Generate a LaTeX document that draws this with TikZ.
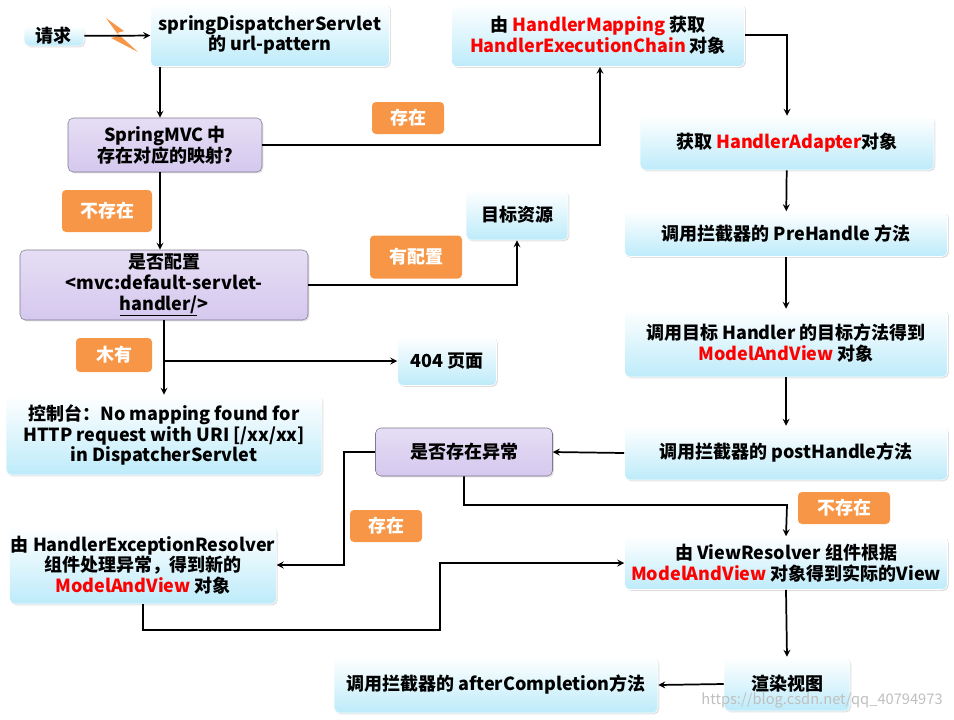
\documentclass[tikz,border=0pt]{standalone}
\usepackage{fontspec}
\setmainfont{Noto Sans CJK SC}
\usetikzlibrary{shadows}
\definecolor{bluebox}{HTML}{BDEBFA}
\definecolor{purbox}{HTML}{D5C8EE}
\definecolor{orbox}{HTML}{F79646}
\definecolor{rd}{HTML}{FF0000}
\begin{document}
\begin{tikzpicture}[x=0.75pt,y=-0.75pt,
 sz/.style 2 args={minimum width=0.75*#1,minimum height=0.75*#2},
 base/.style={rounded corners=4pt,draw=white,align=center,font=\fontsize{13.5}{15.5}\selectfont\bfseries,inner sep=1pt,drop shadow={opacity=0.25,shadow xshift=1pt,shadow yshift=-1pt}},
 bl/.style={base,top color=white,bottom color=bluebox},
 pu/.style={base,top color=white!40!purbox,bottom color=purbox,draw=purbox!60!black},
 og/.style={rounded corners=3pt,fill=orbox,text=white,font=\fontsize{13.5}{15.5}\selectfont\bfseries,align=center,inner sep=1pt},
 ar/.style={->,>=stealth,line width=1.3pt}]
\useasboundingbox (0,0) rectangle (954,719);
\newcommand{\R}[1]{\textcolor{rd}{#1}}
\node[bl,sz={60}{20}] (req) at (54,36) {请求};
\fill[orbox] (106,18) -- (124,31) -- (117,33) -- (138,52) -- (111,38) -- (119,36) -- cycle;
\node[bl,sz={239}{63}] (sp) at (270,35) {springDispatcherServlet\\的 url-pattern};
\node[bl,sz={293}{63}] (hm) at (598,35) {由 \R{HandlerMapping} 获取\\\R{HandlerExecutionChain} 对象};
\node[pu,sz={194}{54}] (mvc) at (165,145) {SpringMVC 中\\存在对应的映射?};
\node[og,sz={72}{32}] (l1) at (408,118) {存在};
\node[bl,sz={294}{54}] (ha) at (787,143) {获取 \R{HandlerAdapter}对象};
\node[og,sz={90}{42}] (l2) at (107,211) {不存在};
\node[bl,sz={102}{50}] (tr) at (517,215) {目标资源};
\node[bl,sz={323}{45}] (pre) at (786,234) {调用拦截器的 PreHandle 方法};
\node[pu,sz={288}{70}] (cfg) at (164,285) {是否配置\\\textless mvc:default-servlet-\\\underline{handler/}\textgreater};
\node[og,sz={92}{43}] (l3) at (416,257) {有配置};
\node[bl,sz={323}{68}] (hd) at (786,343) {调用目标 Handler 的目标方法得到\\\R{ModelAndView} 对象};
\node[og,sz={76}{34}] (l4) at (114,355) {木有};
\node[bl,sz={99}{49}] (p404) at (447,361) {404 页面};
\node[bl,sz={316}{80}] (con) at (164,435) {控制台：No mapping found for\\HTTP request with URI [/xx/xx]\\in DispatcherServlet};
\node[pu,sz={177}{48}] (ex) at (464,452) {是否存在异常};
\node[bl,sz={323}{54}] (post) at (786,453) {调用拦截器的 postHandle方法};
\node[og,sz={72}{32}] (l5) at (386,526) {存在};
\node[og,sz={92}{32}] (l6) at (844,508) {不存在};
\node[bl,sz={263}{78}] (her) at (143,565) {由 HandlerExceptionResolver\\组件处理异常，得到新的\\\R{ModelAndView} 对象};
\node[bl,sz={323}{53}] (vr) at (786,563) {由 ViewResolver 组件根据\\\R{ModelAndView} 对象得到实际的View};
\node[bl,sz={324}{56}] (ac) at (496,685) {调用拦截器的 afterCompletion方法};
\node[bl,sz={126}{54}] (rv) at (787,684) {渲染视图};
\node[text=black!25,font=\fontsize{11}{13}\selectfont] (wm) at (822,700) {https://blog.csdn.net/qq\_40794973};
\draw[ar] (req) -- (sp);
\draw[ar] (sp.south -| 160,0) -- (mvc.north -| 160,0);
\draw[ar] (mvc.east) -- (600,145) -- (hm.south -| 600,0);
\draw[ar] (hm.east) -| (ha.north);
\draw[ar] (ha) -- (pre);
\draw[ar] (pre) -- (hd);
\draw[ar] (hd) -- (post);
\draw[ar] (mvc.south -| 160,0) -- (cfg.north -| 160,0);
\draw[ar] (cfg.east) -| (tr.south);
\draw[ar] (cfg.south) -- (con.north);
\draw[ar] (164,361) -- (p404.west);
\draw[ar] (post.west) -- (ex.east);
\draw[ar] (ex.west) -- (344,452) |- (her.east);
\draw[ar] (ex.south) |- (787,505) -- (vr.north);
\draw[ar] (her.south) |- (440,630) |- (vr.west);
\draw[ar] (vr.south) -- (rv.north);
\draw[ar] (rv.west) -- (ac.east);
\end{tikzpicture}
\end{document}
